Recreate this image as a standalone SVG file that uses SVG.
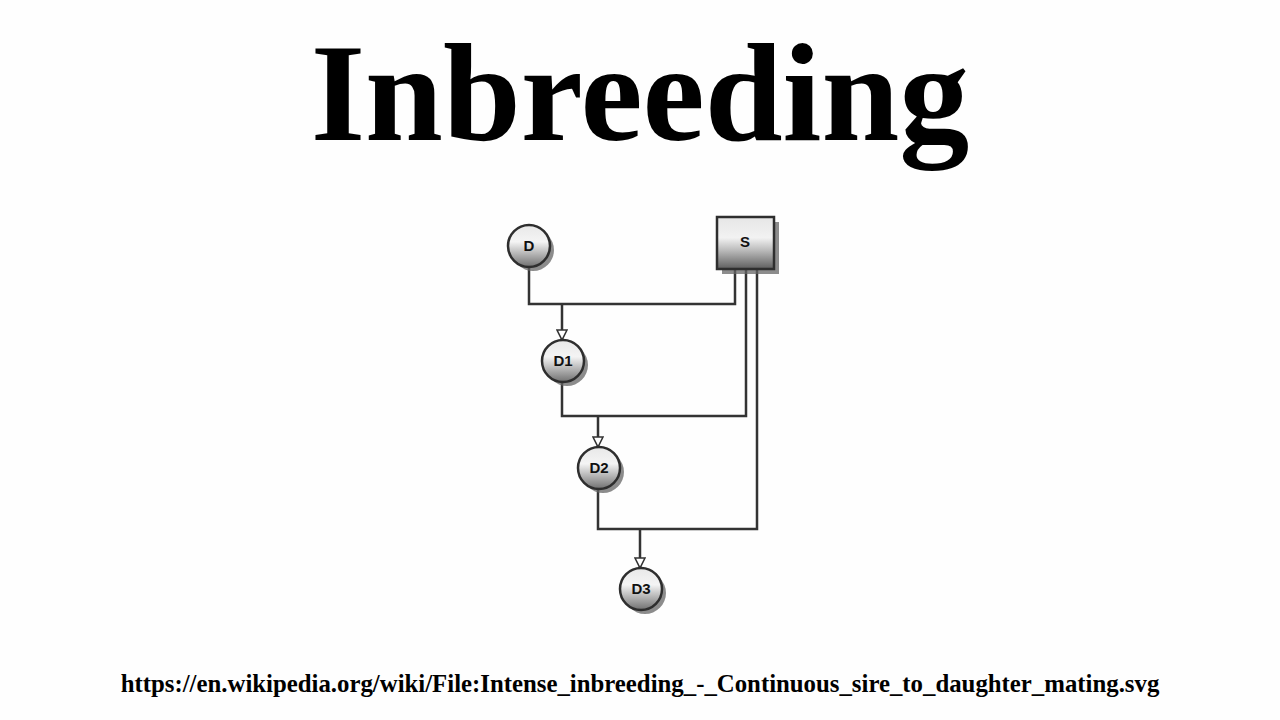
<svg xmlns="http://www.w3.org/2000/svg" width="1280" height="720" viewBox="0 0 1280 720">
<defs>
<linearGradient id="g" x1="0" y1="0" x2="0" y2="1">
<stop offset="0" stop-color="#e8e8e8"/>
<stop offset="0.4" stop-color="#f4f4f4"/>
<stop offset="0.6" stop-color="#c8c8c8"/>
<stop offset="1" stop-color="#707070"/>
</linearGradient>
<linearGradient id="gs" x1="0" y1="0" x2="0" y2="1">
<stop offset="0" stop-color="#e6e6e6"/>
<stop offset="0.4" stop-color="#f2f2f2"/>
<stop offset="0.65" stop-color="#b8b8b8"/>
<stop offset="1" stop-color="#5e5e5e"/>
</linearGradient>
<marker id="arr" viewBox="0 0 12 12" refX="11" refY="6" markerWidth="12" markerHeight="12" markerUnits="userSpaceOnUse" orient="auto">
<path d="M1,1 L11,6 L1,11 Z" fill="#fff" stroke="#333" stroke-width="1.6"/>
</marker>
</defs>
<style>
.bg{fill:#fefefe}
.title{font-family:"Liberation Serif","Times New Roman",serif;font-weight:bold;font-size:140px;fill:#000}
.url{font-family:"Liberation Serif","Times New Roman",serif;font-weight:bold;font-size:24.8px;fill:#000}
.shadow{fill:#666;opacity:0.75}
.node{fill:url(#g);stroke:#2e2e2e;stroke-width:2.5}
.box{fill:url(#gs);stroke:#2e2e2e;stroke-width:2.5}
.lbl{font-family:"Liberation Sans",Arial,sans-serif;font-weight:bold;font-size:15px;fill:#111;text-anchor:middle}
.wire{fill:none;stroke:#333;stroke-width:2.5}
</style>
<rect class="bg" width="1280" height="720"/>
<text class="title" x="640" y="140" text-anchor="middle">Inbreeding</text>
<g id="connectors">
<path class="wire" d="M529,268 V304 H735 V269"/>
<path class="wire" d="M562,304 V340" marker-end="url(#arr)"/>
<path class="wire" d="M562,383 V416 H746 V269"/>
<path class="wire" d="M598,416 V447" marker-end="url(#arr)"/>
<path class="wire" d="M598,490 V529 H757 V269"/>
<path class="wire" d="M640,529 V568" marker-end="url(#arr)"/>
</g>
<g id="node-D">
<circle class="shadow" cx="533" cy="250" r="21"/>
<circle class="node" cx="529" cy="246" r="21"/>
<text class="lbl" x="529" y="251">D</text>
</g>
<g id="node-S">
<rect class="shadow" x="722" y="222" width="57" height="52"/>
<rect class="box" x="717" y="217" width="57" height="52"/>
<text class="lbl" x="745" y="247">S</text>
</g>
<g id="node-D1">
<circle class="shadow" cx="567" cy="365" r="21"/>
<circle class="node" cx="563" cy="361" r="21"/>
<text class="lbl" x="563" y="366">D1</text>
</g>
<g id="node-D2">
<circle class="shadow" cx="603" cy="472" r="21"/>
<circle class="node" cx="599" cy="468" r="21"/>
<text class="lbl" x="599" y="473">D2</text>
</g>
<g id="node-D3">
<circle class="shadow" cx="645" cy="593" r="21"/>
<circle class="node" cx="641" cy="589" r="21"/>
<text class="lbl" x="641" y="594">D3</text>
</g>
<text class="url" x="640" y="692" text-anchor="middle">https://en.wikipedia.org/wiki/File:Intense_inbreeding_-_Continuous_sire_to_daughter_mating.svg</text>
</svg>
